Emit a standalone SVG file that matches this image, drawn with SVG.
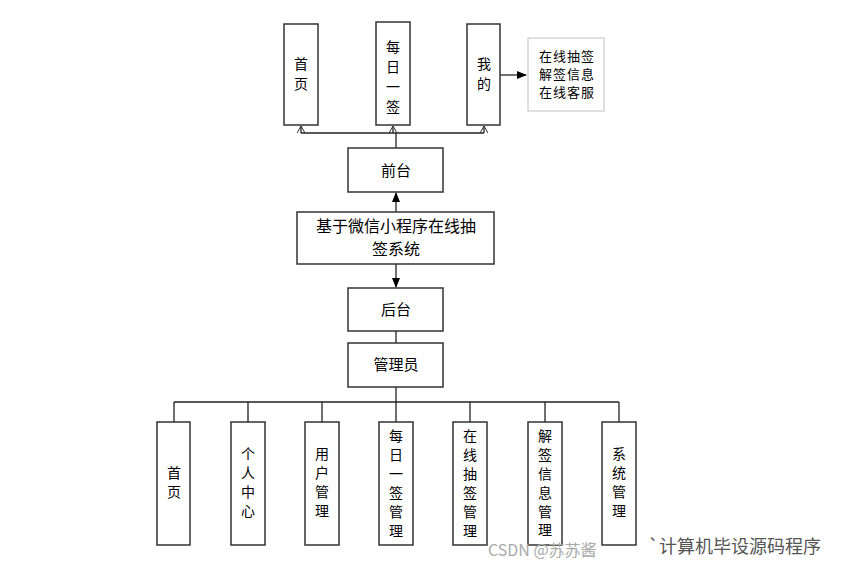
<svg xmlns="http://www.w3.org/2000/svg" width="848" height="563" viewBox="0 0 848 563">
<style>
.b{fill:#fff;stroke:#333;stroke-width:1.5}
.t{font-family:"Noto Sans CJK SC",sans-serif;font-size:14px;fill:#000;text-anchor:middle}
.c{stroke:#222;stroke-width:1.3;fill:none}
</style>
<defs>
<marker id="f" markerWidth="10" markerHeight="8" refX="9" refY="4" orient="auto" markerUnits="userSpaceOnUse"><path d="M0,0L10,4L0,8z" fill="#000"/></marker>
<marker id="o" markerWidth="8" markerHeight="8" refX="7" refY="4" orient="auto" markerUnits="userSpaceOnUse"><path d="M0,0L7,4L0,8" fill="none" stroke="#333" stroke-width="1"/></marker>
</defs>
<rect width="848" height="563" fill="#fff"/>
<g id="connectors">
<path class="c" d="M396,148V133"/>
<path class="c" d="M301,133H484" />
<path class="c" d="M301,133V126" marker-end="url(#o)"/>
<path class="c" d="M393,133V126" marker-end="url(#o)"/>
<path class="c" d="M484,133V126" marker-end="url(#o)"/>
<path class="c" d="M500,75H526" marker-end="url(#f)"/>
<path class="c" d="M396,212V193" marker-end="url(#f)"/>
<path class="c" d="M396,264V287" marker-end="url(#f)"/>
<path class="c" d="M396,331V343"/>
<path class="c" d="M396,387V402M174,402H619M174,402V422M248,402V422M322,402V422M396,402V422M470,402V422M545,402V422M619,402V422"/>
</g>
<g id="n1"><rect class="b" x="284" y="24" width="34" height="101"/><text class="t" x="301" y="69">首</text><text class="t" x="301" y="89">页</text></g>
<g id="n2"><rect class="b" x="376" y="22" width="34" height="103"/><text class="t" x="393" y="52">每</text><text class="t" x="393" y="72">日</text><text class="t" x="393" y="92">一</text><text class="t" x="393" y="112">签</text></g>
<g id="n3"><rect class="b" x="467" y="24" width="33" height="101"/><text class="t" x="484" y="69">我</text><text class="t" x="484" y="89">的</text></g>
<g id="n4"><rect x="528" y="38" width="76" height="73" fill="#fff" stroke="#ccc" stroke-width="1.2"/><g class="t" style="font-size:13px;letter-spacing:1px"><text x="567" y="61">在线抽签</text><text x="567" y="79">解签信息</text><text x="567" y="97">在线客服</text></g></g>
<g id="n5"><rect class="b" x="348" y="148" width="95" height="44"/><text class="t" x="396" y="176" style="font-size:15px">前台</text></g>
<g id="n6"><rect class="b" x="297" y="212" width="197" height="52"/><text class="t" x="396" y="232" style="font-size:16px">基于微信小程序在线抽</text><text class="t" x="396" y="255" style="font-size:16px">签系统</text></g>
<g id="n7"><rect class="b" x="348" y="288" width="95" height="43"/><text class="t" x="396" y="315" style="font-size:15px">后台</text></g>
<g id="n8"><rect class="b" x="348" y="343" width="95" height="44"/><text class="t" x="396" y="370" style="font-size:15px">管理员</text></g>
<g id="m1"><rect class="b" x="157" y="422" width="33" height="123"/><text class="t" x="174" y="478">首</text><text class="t" x="174" y="497">页</text></g>
<g id="m2"><rect class="b" x="231" y="422" width="34" height="123"/><text class="t" x="248" y="459">个</text><text class="t" x="248" y="478">人</text><text class="t" x="248" y="497">中</text><text class="t" x="248" y="516">心</text></g>
<g id="m3"><rect class="b" x="305" y="422" width="34" height="123"/><text class="t" x="322" y="459">用</text><text class="t" x="322" y="478">户</text><text class="t" x="322" y="497">管</text><text class="t" x="322" y="516">理</text></g>
<g id="m4"><rect class="b" x="379" y="422" width="34" height="123"/><text class="t" x="396" y="441">每</text><text class="t" x="396" y="460">日</text><text class="t" x="396" y="479">一</text><text class="t" x="396" y="498">签</text><text class="t" x="396" y="517">管</text><text class="t" x="396" y="536">理</text></g>
<g id="m5"><rect class="b" x="453" y="422" width="34" height="123"/><text class="t" x="470" y="441">在</text><text class="t" x="470" y="460">线</text><text class="t" x="470" y="479">抽</text><text class="t" x="470" y="498">签</text><text class="t" x="470" y="517">管</text><text class="t" x="470" y="536">理</text></g>
<g id="m6"><rect class="b" x="528" y="422" width="34" height="123"/><text class="t" x="545" y="441">解</text><text class="t" x="545" y="460">签</text><text class="t" x="545" y="479">信</text><text class="t" x="545" y="498">息</text><text class="t" x="545" y="517">管</text><text class="t" x="545" y="535">理</text></g>
<g id="m7"><rect class="b" x="602" y="422" width="34" height="123"/><text class="t" x="619" y="459">系</text><text class="t" x="619" y="478">统</text><text class="t" x="619" y="497">管</text><text class="t" x="619" y="516">理</text></g>
<text x="488" y="556" style="font-family:'Noto Sans CJK SC',sans-serif;font-size:16px;fill:#aaa">CSDN @苏苏酱</text>
<text x="648" y="553" style="font-family:'Noto Sans CJK SC',sans-serif;font-size:18px;fill:#555">`计算机毕设源码程序</text>
</svg>
